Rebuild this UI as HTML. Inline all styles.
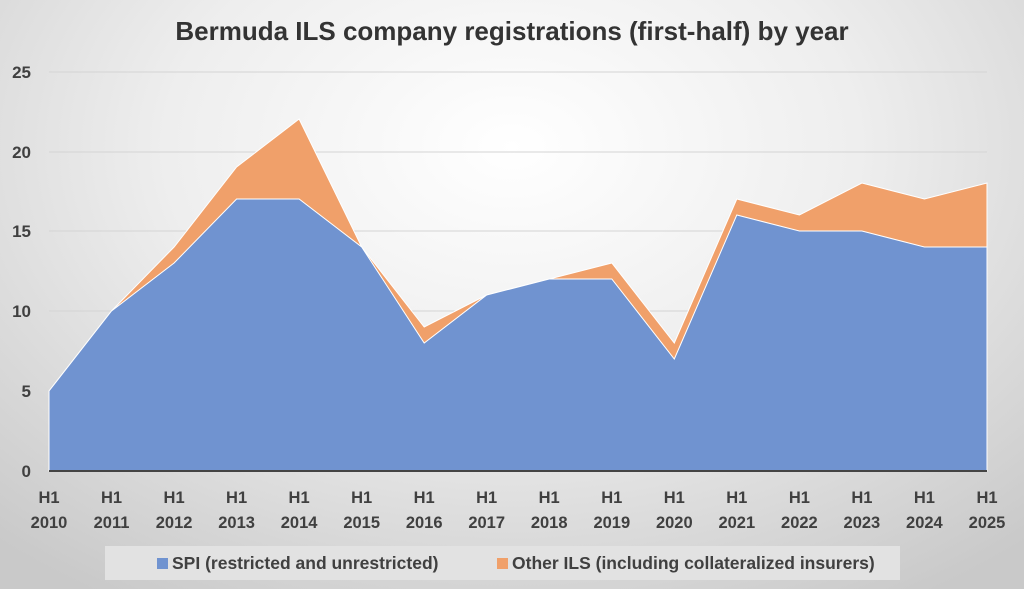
<!DOCTYPE html>
<html><head><meta charset="utf-8"><style>
html,body{margin:0;padding:0}
body{width:1024px;height:589px;overflow:hidden;background:radial-gradient(ellipse 75% 90% at 50% 25%,#ffffff 0%,#eeeeee 45%,#c9c9c9 100%);font-family:"Liberation Sans",sans-serif}
</style></head><body>
<svg width="1024" height="589" xmlns="http://www.w3.org/2000/svg" style="position:absolute;left:0;top:0">
<text x="512" y="40" text-anchor="middle" font-family="Liberation Sans" font-weight="bold" font-size="26" fill="#333">Bermuda ILS company registrations (first-half) by year</text>
<g stroke="#d4d4d4" stroke-width="1">
<line x1="49" x2="987" y1="72" y2="72"/><line x1="49" x2="987" y1="152" y2="152"/><line x1="49" x2="987" y1="231" y2="231"/><line x1="49" x2="987" y1="311" y2="311"/><line x1="49" x2="987" y1="391" y2="391"/>
</g>
<g font-family="Liberation Sans" font-weight="bold" font-size="17" fill="#404040" text-anchor="end">
<text x="31" y="78">25</text><text x="31" y="158">20</text><text x="31" y="237">15</text><text x="31" y="317">10</text><text x="31" y="397">5</text><text x="31" y="477">0</text>
</g>
<polygon fill="#f0a06a" stroke="#fff" stroke-width="1" points="49,471 49,391 111.5,311 174.1,247 236.6,167 299.1,119 361.7,247 424.2,327 486.7,295 549.2,279 611.8,263 674.3,343 736.8,199 799.4,215 861.9,183 924.4,199 987,183 987,471"/>
<polygon fill="#7093d0" stroke="#fff" stroke-width="1" points="49,471 49,391 111.5,311 174.1,263 236.6,199 299.1,199 361.7,247 424.2,343 486.7,295 549.2,279 611.8,279 674.3,359 736.8,215 799.4,231 861.9,231 924.4,247 987,247 987,471"/>
<line x1="49" x2="987" y1="471" y2="471" stroke="#444" stroke-width="2"/>
<g font-family="Liberation Sans" font-weight="bold" font-size="16.5" fill="#404040" text-anchor="middle">
<text x="49" y="503">H1</text><text x="49" y="528">2010</text>
<text x="111.5" y="503">H1</text><text x="111.5" y="528">2011</text>
<text x="174.1" y="503">H1</text><text x="174.1" y="528">2012</text>
<text x="236.6" y="503">H1</text><text x="236.6" y="528">2013</text>
<text x="299.1" y="503">H1</text><text x="299.1" y="528">2014</text>
<text x="361.7" y="503">H1</text><text x="361.7" y="528">2015</text>
<text x="424.2" y="503">H1</text><text x="424.2" y="528">2016</text>
<text x="486.7" y="503">H1</text><text x="486.7" y="528">2017</text>
<text x="549.2" y="503">H1</text><text x="549.2" y="528">2018</text>
<text x="611.8" y="503">H1</text><text x="611.8" y="528">2019</text>
<text x="674.3" y="503">H1</text><text x="674.3" y="528">2020</text>
<text x="736.8" y="503">H1</text><text x="736.8" y="528">2021</text>
<text x="799.4" y="503">H1</text><text x="799.4" y="528">2022</text>
<text x="861.9" y="503">H1</text><text x="861.9" y="528">2023</text>
<text x="924.4" y="503">H1</text><text x="924.4" y="528">2024</text>
<text x="987" y="503">H1</text><text x="987" y="528">2025</text>
</g>
<rect x="105" y="546" width="795" height="34" fill="#e2e2e2"/>
<rect x="157" y="558" width="11" height="11" fill="#7093d0"/>
<text x="172" y="569" font-family="Liberation Sans" font-weight="bold" font-size="17.5" fill="#404040">SPI (restricted and unrestricted)</text>
<rect x="497" y="558" width="11" height="11" fill="#f0a06a"/>
<text x="512" y="569" font-family="Liberation Sans" font-weight="bold" font-size="17.5" fill="#404040">Other ILS (including collateralized insurers)</text>
</svg>
</body></html>
